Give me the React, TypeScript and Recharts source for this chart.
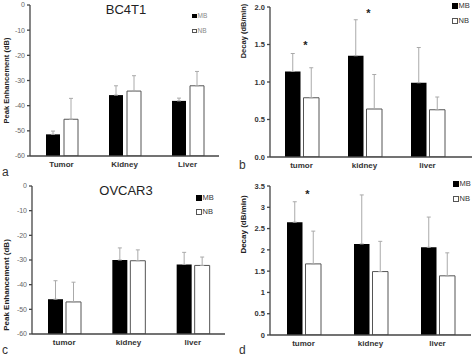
import React from 'react';
import { BarChart, Bar, XAxis, YAxis, ErrorBar, ReferenceDot } from 'recharts';

// ---- Data ----
const catsA = ['Tumor', 'Kidney', 'Liver'];
const mbA = [-51.4, -35.8, -38.1];
const mbErrA = [1.3, 3.7, 1.1];
const nbA = [-45.4, -34.2, -32.1];
const nbErrA = [8.3, 6.1, 5.7];

const catsB = ['tumor', 'kidney', 'liver'];
const mbB = [1.14, 1.35, 0.99];
const mbErrB = [0.24, 0.48, 0.47];
const nbB = [0.79, 0.64, 0.63];
const nbErrB = [0.4, 0.46, 0.17];
const sigB = [
  { cat: 'tumor', y: 1.5 },
  { cat: 'kidney', y: 1.92 },
];

const catsC = ['tumor', 'kidney', 'liver'];
const mbC = [-45.9, -30.0, -31.8];
const mbErrC = [7.5, 4.9, 4.9];
const nbC = [-47.0, -30.3, -32.2];
const nbErrC = [8.0, 4.4, 3.4];

const catsD = ['tumor', 'kidney', 'liver'];
const mbD = [2.65, 2.14, 2.06];
const mbErrD = [0.48, 1.15, 0.71];
const nbD = [1.67, 1.49, 1.39];
const nbErrD = [0.77, 0.71, 0.54];
const sigD = [{ cat: 'tumor', y: 3.32 }];

const ticksPeak = [-60, -50, -40, -30, -20, -10, 0];
const ticksDecayB = [0, 0.5, 1.0, 1.5, 2.0];
const ticksDecayD = [0, 0.5, 1, 1.5, 2, 2.5, 3, 3.5];

const seriesNames = ['MB', 'NB'];

const FONT = '"Liberation Sans", Arial, sans-serif';

type Sig = { cat: string; y: number };

type PanelProps = {
  left: number;
  top: number;
  width: number;
  height: number;
  cats: string[];
  mb: number[];
  mbErr: number[];
  nb: number[];
  nbErr: number[];
  domain: [number, number];
  ticks: number[];
  fmt: (v: number) => string;
  margin: { top: number; right: number; bottom: number; left: number };
  yWidth: number;
  xHeight: number;
  padRight: number;
  barSize: number;
  barGap: number;
  yLabel: string;
  yLabelDy: number;
  yLabelSize: number;
  yTickBold: boolean;
  yTickSize: number;
  sig?: Sig[];
  sigDx?: number;
  title?: string;
  titleX?: number;
  titleY?: number;
  legendX: number;
  legendY: number;
  legendGap: number;
  legendSize: number;
  letter: string;
  letterY: number;
};

const Panel = (p: PanelProps) => {
  const data = p.cats.map((c, i) => ({
    cat: c,
    mb: p.mb[i],
    mbErr: p.mbErr[i],
    nb: p.nb[i],
    nbErr: p.nbErr[i],
  }));
  const base = p.domain[0];
  const yLabelContent = (props: any) => {
    const vb = props.viewBox || {};
    const x = vb.x + 6;
    const y = vb.y + vb.height / 2 + p.yLabelDy;
    return (
      <text
        transform={`translate(${x},${y}) rotate(-90)`}
        textAnchor="middle"
        dominantBaseline="central"
        fontSize={p.yLabelSize}
        fontWeight="bold"
        fontFamily={FONT}
        fill="#222"
      >
        {p.yLabel}
      </text>
    );
  };
  return (
    <div style={{ position: 'absolute', left: p.left, top: p.top, width: p.width, height: p.height }}>
      <BarChart
        width={p.width}
        height={p.height}
        data={data}
        margin={p.margin}
        barSize={p.barSize}
        barGap={p.barGap}
      >
        <XAxis
          dataKey="cat"
          type="category"
          height={p.xHeight}
          tickLine={false}
          tickSize={0}
          tickMargin={5}
          padding={{ left: 0, right: p.padRight }}
          stroke="#444"
          strokeWidth={1.3}
          tick={{ fontSize: 8, fontWeight: 'bold', fill: '#333', fontFamily: FONT }}
          interval={0}
        />
        <YAxis
          type="number"
          domain={p.domain}
          ticks={p.ticks}
          allowDataOverflow
          width={p.yWidth}
          tickSize={3}
          tickMargin={2}
          stroke="#444"
          strokeWidth={1.3}
          tickFormatter={p.fmt}
          tick={{
            fontSize: p.yTickSize,
            fontWeight: p.yTickBold ? 'bold' : 'normal',
            fill: p.yTickBold ? '#333' : '#666',
            fontFamily: FONT,
          }}
          label={{ content: yLabelContent, position: 'insideLeft' }}
        />
        <Bar
          dataKey={(d: any) => [base, d.mb]}
          name="MB"
          fill="#000"
          isAnimationActive={false}
        >
          <ErrorBar dataKey={(d: any) => [0, d.mbErr]} width={2} stroke="#aaa" strokeWidth={1} direction="y" />
        </Bar>
        <Bar
          dataKey={(d: any) => [base, d.nb]}
          name="NB"
          fill="#fff"
          stroke="#555"
          strokeWidth={1}
          isAnimationActive={false}
        >
          <ErrorBar dataKey={(d: any) => [0, d.nbErr]} width={2} stroke="#aaa" strokeWidth={1} direction="y" />
        </Bar>
        {(p.sig || []).map((s, i) => (
          <ReferenceDot
            key={i}
            x={s.cat}
            y={s.y}
            r={0}
            ifOverflow="visible"
            shape={(sp: any) => (
              <text
                x={sp.cx + (p.sigDx || 0)}
                y={sp.cy}
                textAnchor="middle"
                dominantBaseline="central"
                fontSize={11}
                fontWeight="bold"
                fontFamily={FONT}
                fill="#222"
              >
                *
              </text>
            )}
          />
        ))}
      </BarChart>
      {p.title && (
        <div
          style={{
            position: 'absolute',
            left: (p.titleX || 0) - 40,
            width: 80,
            top: (p.titleY || 0) - 8,
            textAlign: 'center',
            fontFamily: FONT,
            fontSize: 13,
            lineHeight: '16px',
            color: '#222',
          }}
        >
          {p.title}
        </div>
      )}
      {seriesNames.map((n, i) => (
        <div
          key={n}
          style={{
            position: 'absolute',
            left: p.legendX,
            top: p.legendY + i * p.legendGap,
            display: 'flex',
            alignItems: 'center',
            fontFamily: FONT,
            fontSize: p.legendSize,
            lineHeight: '8px',
            color: p.legendSize > 7 ? '#333' : '#888',
          }}
        >
          <span
            style={{
              display: 'inline-block',
              width: p.legendSize - 2,
              height: p.legendSize - 2,
              background: i === 0 ? '#000' : '#fff',
              border: i === 0 ? '1px solid #000' : '1px solid #555',
              boxSizing: 'border-box',
              marginRight: 1,
            }}
          />
          {n}
        </div>
      ))}
      <div
        style={{
          position: 'absolute',
          left: 2,
          top: p.letterY - 7,
          fontFamily: FONT,
          fontSize: 12,
          lineHeight: '14px',
          color: '#333',
        }}
      >
        {p.letter}
      </div>
    </div>
  );
};

const fmtInt = (v: number) => String(v);
const fmt1 = (v: number) => v.toFixed(1);
const fmtDef = (v: number) => String(v);

export default function App() {
  return (
    <div style={{ position: 'absolute', left: 0, top: 0, width: 474, height: 358, background: '#fff', overflow: 'hidden' }}>
      <Panel
        left={0}
        top={0}
        width={237}
        height={179}
        cats={catsA}
        mb={mbA}
        mbErr={mbErrA}
        nb={nbA}
        nbErr={nbErrA}
        domain={[-60, 0]}
        ticks={ticksPeak}
        fmt={fmtInt}
        margin={{ top: 5, right: 18, bottom: 5, left: 0 }}
        yWidth={30}
        xHeight={18}
        padRight={0}
        barSize={14}
        barGap={4}
        yLabel="Peak Enhancement (dB)"
        yLabelDy={0}
        yLabelSize={7.5}
        yTickBold={false}
        yTickSize={7}
        title="BC4T1"
        titleX={126}
        titleY={10}
        legendX={192}
        legendY={12}
        legendGap={15}
        legendSize={6.5}
        letter="a"
        letterY={172}
      />
      <Panel
        left={237}
        top={0}
        width={237}
        height={179}
        cats={catsB}
        mb={mbB}
        mbErr={mbErrB}
        nb={nbB}
        nbErr={nbErrB}
        domain={[0, 2]}
        ticks={ticksDecayB}
        fmt={fmt1}
        margin={{ top: 7, right: 2, bottom: 5, left: 0 }}
        yWidth={33}
        xHeight={17}
        padRight={13}
        barSize={15.5}
        barGap={3}
        yLabel="Decay (dB/min)"
        yLabelDy={-51}
        yLabelSize={7.5}
        yTickBold={true}
        yTickSize={7.5}
        sig={sigB}
        sigDx={4}
        legendX={215}
        legendY={2}
        legendGap={15}
        legendSize={7.5}
        letter="b"
        letterY={165}
      />
      <Panel
        left={0}
        top={178}
        width={237}
        height={180}
        cats={catsC}
        mb={mbC}
        mbErr={mbErrC}
        nb={nbC}
        nbErr={nbErrC}
        domain={[-60, 0]}
        ticks={ticksPeak}
        fmt={fmtInt}
        margin={{ top: 8, right: 12, bottom: 6, left: 0 }}
        yWidth={32}
        xHeight={18}
        padRight={0}
        barSize={15}
        barGap={3}
        yLabel="Peak Enhancement (dB)"
        yLabelDy={25}
        yLabelSize={8}
        yTickBold={false}
        yTickSize={7}
        title="OVCAR3"
        titleX={126}
        titleY={13}
        legendX={196}
        legendY={16}
        legendGap={14}
        legendSize={7.5}
        letter="c"
        letterY={172}
      />
      <Panel
        left={237}
        top={178}
        width={237}
        height={180}
        cats={catsD}
        mb={mbD}
        mbErr={mbErrD}
        nb={nbD}
        nbErr={nbErrD}
        domain={[0, 3.5]}
        ticks={ticksDecayD}
        fmt={fmtDef}
        margin={{ top: 8, right: 3, bottom: 5, left: 0 }}
        yWidth={33}
        xHeight={18}
        padRight={0}
        barSize={15.5}
        barGap={3}
        yLabel="Decay (dB/min)"
        yLabelDy={-36}
        yLabelSize={8}
        yTickBold={true}
        yTickSize={7.5}
        sig={sigD}
        sigDx={4}
        legendX={216}
        legendY={2}
        legendGap={15}
        legendSize={7.5}
        letter="d"
        letterY={172}
      />
    </div>
  );
}
